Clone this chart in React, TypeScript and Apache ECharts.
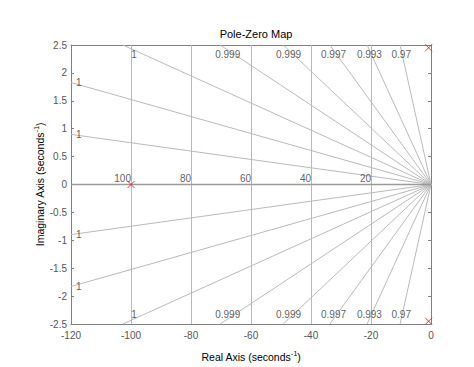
import React, { useEffect, useRef } from "react";
import * as echarts from "echarts";

// Axis limits
const xLimits = [-120, 0];
const yLimits = [-2.5, 2.5];

// Damping ratio grid lines (zeta) and their labels
const zetaValues = [0.999972, 0.999884, 0.999704, 0.999368, 0.998715, 0.997262, 0.99318, 0.97179];
const zetaLabels = ["1", "1", "1", "0.999", "0.999", "0.997", "0.993", "0.97"];

// Natural frequency grid (wn) and labels
const wnValues = [100, 80, 60, 40, 20];
const wnLabels = ["100", "80", "60", "40", "20"];

// Poles
const poleReal = [-100, -0.8, -0.8];
const poleImag = [0, 2.45, -2.45];

const GRID_COLOR = "#b9b9b9";
const AXIS_COLOR = "#808080";
const TEXT_COLOR = "#555555";
const LABEL_COLOR = "#333333";
const FONT = "Liberation Sans, Arial, Helvetica, sans-serif";
const LABEL_INSET = 0.09; // imaginary-axis inset where edge labels sit

function zetaSlope(z: number) {
  return Math.sqrt(1 - z * z) / z;
}

function zetaEnd(z: number, sign: number) {
  const s = zetaSlope(z);
  const leftY = -xLimits[0] * s;
  if (leftY <= yLimits[1]) {
    return { x: xLimits[0], y: sign * leftY, edge: "left" };
  }
  return { x: -yLimits[1] / s, y: sign * yLimits[1], edge: sign > 0 ? "top" : "bottom" };
}

export default function App() {
  const ref = useRef<HTMLDivElement>(null);
  useEffect(() => {
    if (!ref.current) return;
    const chart = echarts.init(ref.current, undefined, { renderer: "svg" });

    const series: any[] = [];
    const labelData: any[] = [];
    zetaValues.forEach((z, i) => {
      [1, -1].forEach((sign) => {
        const e = zetaEnd(z, sign);
        series.push({
          type: "line",
          data: [
            [0, 0],
            [e.x, e.y],
          ],
          symbol: "none",
          silent: true,
          lineStyle: { color: GRID_COLOR, width: 1 },
          z: 1,
        });
        if (e.edge === "left") {
          labelData.push({
            value: [e.x, e.y],
            name: zetaLabels[i],
            label: { position: "right", distance: 5, color: LABEL_COLOR },
          });
        } else {
          const yIn = sign * (yLimits[1] - LABEL_INSET);
          const xIn = -Math.abs(yIn) / zetaSlope(z);
          labelData.push({
            value: [xIn, yIn],
            name: zetaLabels[i],
            label: {
              position: [0, 0],
              align: "center",
              verticalAlign: "middle",
              offset: [0, sign > 0 ? 4 : -4],
              color: LABEL_COLOR,
            },
          });
        }
      });
    });

    // wn grid lines + real axis line
    series.push({
      type: "line",
      data: [],
      symbol: "none",
      silent: true,
      markLine: {
        silent: true,
        symbol: ["none", "none"],
        label: { show: false },
        lineStyle: { color: GRID_COLOR, type: "solid", width: 1 },
        data: [
          ...wnValues.map((w) => ({ xAxis: -w })),
          { yAxis: 0, lineStyle: { color: "#9a9a9a", width: 1.3 } },
        ],
      },
    });

    // damping labels
    series.push({
      type: "scatter",
      data: labelData,
      symbolSize: 0,
      silent: true,
      itemStyle: { color: "rgba(0,0,0,0)" },
      label: {
        show: true,
        formatter: "{b}",
        color: LABEL_COLOR,
        fontSize: 10,
        fontFamily: FONT,
      },
      z: 5,
    });

    // wn labels
    series.push({
      type: "scatter",
      data: wnValues.map((w, i) => ({ value: [-w, 0], name: wnLabels[i] })),
      symbolSize: 0,
      silent: true,
      itemStyle: { color: "rgba(0,0,0,0)" },
      label: {
        show: true,
        formatter: "{b}",
        position: [0, 0],
        align: "right",
        verticalAlign: "bottom",
        offset: [0, -1],
        color: LABEL_COLOR,
        fontSize: 10,
        fontFamily: FONT,
      },
      z: 5,
    });

    // poles
    series.push({
      type: "scatter",
      data: poleReal.map((r, i) => [r, poleImag[i]]),
      symbol: "path://M0,0L10,10M10,0L0,10",
      symbolSize: 7,
      silent: true,
      itemStyle: { color: "none", borderColor: "#ff0000", borderWidth: 1 },
      z: 10,
    });

    const axisCommon = {
      axisLine: { show: true, onZero: false, lineStyle: { color: AXIS_COLOR, width: 1 } },
      axisTick: { show: true, inside: true, length: 3, lineStyle: { color: AXIS_COLOR } },
      splitLine: { show: false },
    };

    const nameRich = {
      a: { fontSize: 10.5, color: "#000000", fontFamily: FONT },
      sup: { fontSize: 7, color: "#000000", fontFamily: FONT, padding: [0, 0, 6, 0] },
    };

    chart.setOption({
      animation: false,
      backgroundColor: "#ffffff",
      title: {
        text: "Pole-Zero Map",
        left: 251,
        top: 23,
        textAlign: "center",
        textStyle: { fontSize: 11, fontWeight: "normal", color: "#000000", fontFamily: FONT },
      },
      grid: { left: 71, right: 43, top: 45, bottom: 42, containLabel: false },
      xAxis: [
        {
          ...axisCommon,
          type: "value",
          min: xLimits[0],
          max: xLimits[1],
          interval: 20,
          position: "bottom",
          axisLabel: { color: TEXT_COLOR, fontSize: 10, fontFamily: FONT, margin: 6 },
          name: "{a|Real Axis (seconds}{sup|-1}{a|)}",
          nameLocation: "middle",
          nameGap: 26,
          nameTextStyle: { rich: nameRich },
        },
        {
          ...axisCommon,
          type: "value",
          min: xLimits[0],
          max: xLimits[1],
          interval: 20,
          position: "top",
          axisLabel: { show: false },
        },
      ],
      yAxis: [
        {
          ...axisCommon,
          type: "value",
          min: yLimits[0],
          max: yLimits[1],
          interval: 0.5,
          position: "left",
          axisLabel: { color: TEXT_COLOR, fontSize: 10, fontFamily: FONT, margin: 4 },
          name: "{a|Imaginary Axis (seconds}{sup|-1}{a|)}",
          nameLocation: "middle",
          nameGap: 25,
          nameMoveOverlap: false,
          nameTextStyle: { rich: nameRich },
        },
        {
          ...axisCommon,
          type: "value",
          min: yLimits[0],
          max: yLimits[1],
          interval: 0.5,
          position: "right",
          axisLabel: { show: false },
        },
      ],
      series,
    });

    return () => chart.dispose();
  }, []);

  return (
    <div
      ref={ref}
      style={{ position: "fixed", left: 0, top: 0, width: 474, height: 367, background: "#fff" }}
    />
  );
}
